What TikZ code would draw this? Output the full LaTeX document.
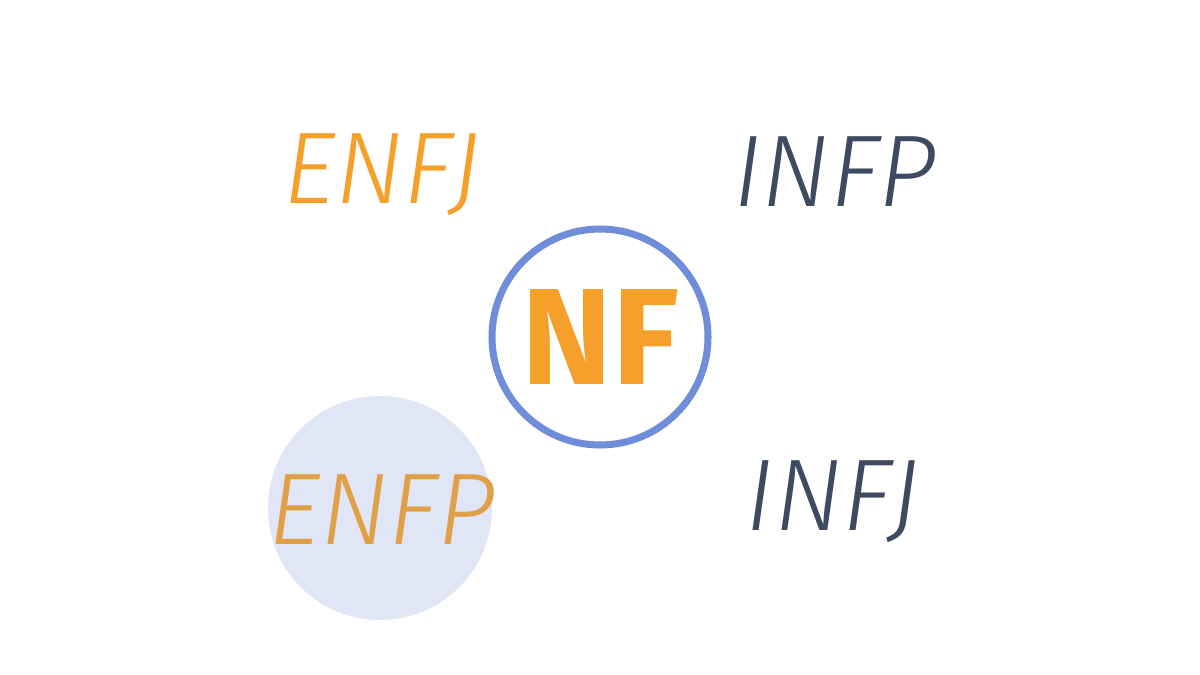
\documentclass[tikz,border=0pt]{standalone}
\usepackage{fontspec}
\setmainfont{Fira Sans}
\begin{document}
\begin{tikzpicture}[x=0.02cm,y=-0.02cm,
 hand/.style={font=\fontsize{58}{60}\selectfont\itshape\fontspec{Fira Sans Light}},
 orange/.style={text=nfor}, dark/.style={text=nfdark}]
\definecolor{nfor}{HTML}{F5A02A}
\definecolor{nfdark}{HTML}{3E4A60}
\definecolor{nfblue}{HTML}{6F8DD8}
\definecolor{nffill}{HTML}{E0E6F6}
\definecolor{nfbrown}{HTML}{E0A047}
\useasboundingbox[fill=white] (0,0) rectangle (1200,675);
\fill[nffill] (380,508) circle (112);
\draw[nfblue,line width=4pt] (600,337) circle (108);
\node (nf) at (600,337) {\fontsize{78}{80}\selectfont\bfseries\color{nfor}NF};
\node[hand,orange] (enfj) at (382,175) {\itshape ENFJ};
\node[hand,dark] (infp) at (835,172) {\itshape INFP};
\node[hand,text=nfbrown] (enfp) at (382,510) {\itshape ENFP};
\node[hand,dark] (infj) at (833,502) {\itshape INFJ};
\end{tikzpicture}
\end{document}
